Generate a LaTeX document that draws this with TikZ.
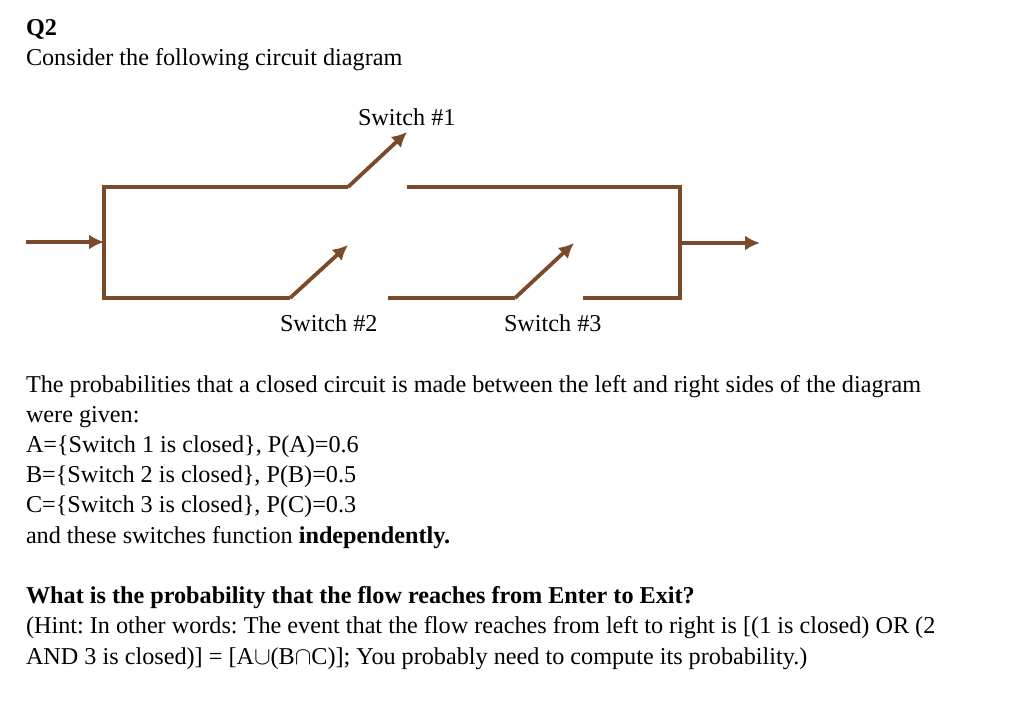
\documentclass[tikz,border=0pt]{standalone}
\usepackage{fontspec}
\setmainfont{Liberation Serif}
\usepackage{xcolor}
\definecolor{wirebrown}{HTML}{7B4A2A}
\tikzset{>=latex,
    wire/.style={draw=wirebrown, line width=3.8pt, line join=miter},
    arrowwire/.style={wire, -{Latex[length=15pt,width=15pt]}},
    qtext/.style={anchor=base west, inner sep=0pt, outer sep=0pt, font=\fontsize{24.2}{30}\selectfont\frenchspacing}}
\usetikzlibrary{arrows.meta}

\begin{document}
\begin{tikzpicture}[x=1pt, y=-1pt]
    \useasboundingbox (0, 0) rectangle (1024, 716);
    % question text
    \node[qtext] (title) at (26, 35) {\textbf{Q2}};
    \node[qtext] (intro) at (26, 65) {Consider the following circuit diagram};
    \node[qtext] (swa) at (358, 125) {Switch \#1};
    \node[qtext] (swb) at (280, 331) {Switch \#2};
    \node[qtext] (swc) at (504, 331) {Switch \#3};
    \node[qtext] (para) at (26, 392) {The probabilities that a closed circuit is made between the left and right sides of the diagram};
    \node[qtext] (given) at (26, 422) {were given:};
    \node[qtext] (eva) at (26, 452) {A=\{Switch 1 is closed\}, P(A)=0.6};
    \node[qtext] (evb) at (26, 482) {B=\{Switch 2 is closed\}, P(B)=0.5};
    \node[qtext] (evc) at (26, 512) {C=\{Switch 3 is closed\}, P(C)=0.3};
    \node[qtext] (indep) at (26, 543) {and these switches function \textbf{independently.}};
    \node[qtext] (ask) at (26, 603) {\textbf{What is the probability that the flow reaches from Enter to Exit?}};
    \node[qtext] (hinta) at (26, 633) {(Hint: In other words: The event that the flow reaches from left to right is [(1 is closed) OR (2};
    \node[qtext] (hintb) at (26, 664) {AND 3 is closed)] = [A$\cup$(B$\cap$C)]; You probably need to compute its probability.)};
    % circuit corners
    \coordinate (in) at (26, 242);
    \coordinate (lmid) at (104, 242);
    \coordinate (ltop) at (104, 187);
    \coordinate (lbot) at (104, 298);
    \coordinate (rtop) at (680, 187);
    \coordinate (rbot) at (680, 298);
    \coordinate (rmid) at (680, 243);
    \coordinate (out) at (760, 243);
    \coordinate (ahinge) at (348, 187);
    \coordinate (atip) at (407, 132);
    \coordinate (aend) at (407, 187);
    \coordinate (bhinge) at (290, 298);
    \coordinate (btip) at (348, 245);
    \coordinate (bend) at (388, 298);
    \coordinate (chinge) at (515, 298);
    \coordinate (ctip) at (574, 243);
    \coordinate (cend) at (583, 298);
    % wires
    \draw[wire] (ahinge) -- (ltop) -- (lbot) -- (bhinge);
    \draw[wire] (aend) -- (rtop) -- (rbot) -- (cend);
    \draw[wire] (bend) -- (chinge);
    \foreach \hinge/\tip in {ahinge/atip, bhinge/btip, chinge/ctip} {
      \draw[arrowwire] (\hinge) -- (\tip);
    }
    \draw[arrowwire] (in) -- (lmid);
    \draw[arrowwire] (rmid) -- (out);
\end{tikzpicture}
\end{document}
